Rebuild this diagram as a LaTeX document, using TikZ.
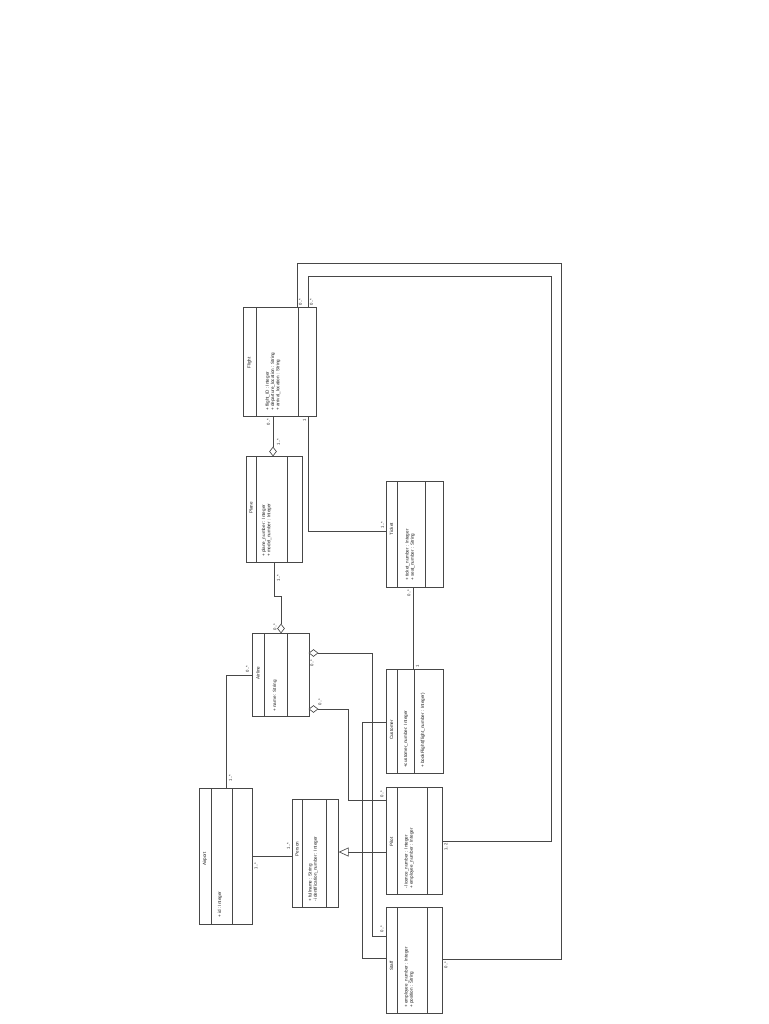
\documentclass[tikz,border=0pt]{standalone}
\usepackage{fontspec}
\setmainfont{Liberation Sans}
\usetikzlibrary{shapes.geometric,arrows.meta,calc}
\newcommand\umlclass[7]{%
  \node[cls, minimum width={(#5-#2)*1pt}, minimum height={(#7-#6)*1pt}, anchor=north west] (#1) at (#2,#6) {};
  \draw[ln] (#3,#6) -- (#3,#7);
  \draw[ln] (#4,#6) -- (#4,#7);
}
\begin{document}
\begin{tikzpicture}[x=1pt,y=-1pt,
  ln/.style={draw=black!72, line width=0.65pt},
  cls/.style={ln, inner sep=0pt},
  nm/.style={rotate=90, font=\fontsize{4.6}{4.6}\selectfont, text=black!88, inner sep=0pt},
  attr/.style={rotate=90, anchor=west, align=left, font=\fontsize{4.6}{4.2}\selectfont, text=black!88, inner sep=0pt},
  ml/.style={rotate=90, font=\fontsize{4.2}{4.2}\selectfont, text=black!88, inner sep=0pt},
  aggv/.style={diamond, ln, fill=white, inner sep=0pt, minimum width=7pt, minimum height=9pt},
  aggh/.style={diamond, ln, fill=white, inner sep=0pt, minimum width=9pt, minimum height=7pt},
  gen/.style={ln, -{Triangle[open, length=10pt, width=9pt]}}
]
\useasboundingbox[fill=white] (0,0) rectangle (768,1024);

% classes: name, left, div1, div2, right, top, bottom
\umlclass{flight}{243}{256}{298}{316}{307}{416}
\umlclass{plane}{246}{256}{287}{302}{456}{562}
\umlclass{ticket}{386}{397}{425}{443}{481}{587}
\umlclass{airline}{252}{264}{287}{309}{633}{716}
\umlclass{customer}{386}{397}{414}{443}{669}{773}
\umlclass{airport}{199}{211}{232}{252}{788}{924}
\umlclass{person}{292}{302}{326}{338}{799}{907}
\umlclass{pilot}{386}{397}{427}{442}{787}{894}
\umlclass{staff}{386}{397}{427}{442}{907}{1013}

% names
\node[nm] (flight-n) at (249.5,363) {Flight};
\node[nm] (plane-n) at (251,508) {Plane};
\node[nm] (ticket-n) at (391.5,529) {Ticket};
\node[nm] (airline-n) at (258,673) {Airline};
\node[nm] (customer-n) at (391.5,730) {Customer};
\node[nm] (airport-n) at (205,859) {Airport};
\node[nm] (person-n) at (297,849) {Person};
\node[nm] (pilot-n) at (391.5,842) {Pilot};
\node[nm] (staff-n) at (391.5,966) {Staff};

% attributes
\node[attr] (flight-a) at (273,411) {+ flight\_ID : Integer\\+ departure\_location : String\\+ arrival\_location : String};
\node[attr] (plane-a) at (266.5,557) {+ plane\_number : Integer\\+ model\_number : Integer};
\node[attr] (ticket-a) at (410,581) {+ ticket\_number : Integer\\+ seat\_number : String};
\node[attr] (airline-a) at (275,712) {+ name : String};
\node[attr] (customer-a) at (406,768) {+customer\_number: Integer};
\node[attr] (customer-o) at (423,768) {+ bookFlight(flight\_number : Integer)};
\node[attr] (airport-a) at (220,918) {+ id : Integer};
\node[attr] (person-a) at (313,902) {+ fullname : String\\- identification\_number : Integer};
\node[attr] (pilot-a) at (409,889) {- licence\_number : Integer\\+ employee\_number : Integer};
\node[attr] (staff-a) at (409,1008) {+ employee\_number : Integer\\+ position : String};

% Flight -- Plane (aggregation)
\node[aggv] (dpl) at (273,451.5) {};
\draw[ln] (dpl.north) -- (dpl.north |- flight.south);
\node[ml] (l1) at (268.5,422) {0..*};
\node[ml] (l2) at (278.5,442) {1..*};

% Flight -- Ticket
\draw[ln] ($(flight.south east)+(-8,0)$) |- ($(ticket.north west)+(0,50)$);
\node[ml] (l3) at (304.5,420) {1};
\node[ml] (l4) at (382.5,525) {1..*};

% Plane -- Airline (aggregation)
\node[aggv] (dal) at (281,628.5) {};
\draw[ln] (dal.north) -- ++(0,-27) -| ($(plane.south west)+(28,0)$);
\node[ml] (l5) at (278.5,578) {1..*};
\node[ml] (l6) at (275,627) {0..*};

% Airline -- Staff (aggregation)
\node[aggh] (das) at (313.5,653) {};
\draw[ln] (das.east) -- ($(das.east -| staff.west)+(-14,0)$) |- ($(staff.north west)+(0,29)$);
\node[ml] (l7) at (312,663) {0..*};
\node[ml] (l8) at (382,929) {0..*};

% Airline -- Pilot (aggregation)
\node[aggh] (dap) at (313.5,709) {};
\draw[ln] (dap.east) -- ($(dap.east -| pilot.west)+(-38,0)$) |- ($(pilot.north west)+(0,13)$);
\node[ml] (l9) at (320,702) {0..*};
\node[ml] (l10) at (382,794) {0..*};

% Ticket -- Customer
\draw[ln] ($(ticket.south west)+(27,0)$) -- ($(customer.north west)+(27,0)$);
\node[ml] (l11) at (409,593) {0..*};
\node[ml] (l12) at (417.5,666) {1};

% Airport -- Airline
\draw[ln] ($(airport.north west)+(27,0)$) |- ($(airline.north west)+(0,42)$);
\node[ml] (l13) at (230.5,778) {1..*};
\node[ml] (l14) at (247.5,669) {0..*};

% Airport -- Person
\draw[ln] ($(airport.north east)+(0,68)$) -- ($(person.north west)+(0,57)$);
\node[ml] (l15) at (256,866) {1..*};
\node[ml] (l16) at (288.5,846) {1..*};

% Generalizations to Person
\draw[gen] ($(pilot.north west)+(0,65)$) -- ($(person.north east)+(0,53)$);
\draw[ln] ($(customer.north west)+(0,53)$) -| ($(person.north east)+(24,53)$);
\draw[ln] ($(staff.north west)+(0,51)$) -| ($(person.north east)+(24,53)$);

% Flight -- Pilot
\draw[ln] ($(flight.north east)+(-8,0)$) -- ++(0,-31) -- ++(243,0) |- ($(pilot.north east)+(0,54)$);
\node[ml] (l17) at (311.5,302) {0..*};
\node[ml] (l18) at (446,847) {1..2};

% Flight -- Staff
\draw[ln] ($(flight.north west)+(54,0)$) -- ++(0,-44) -- ++(264,0) |- ($(staff.north east)+(0,52)$);
\node[ml] (l19) at (300.5,302) {0..*};
\node[ml] (l20) at (446,965) {0..*};
\end{tikzpicture}
\end{document}
